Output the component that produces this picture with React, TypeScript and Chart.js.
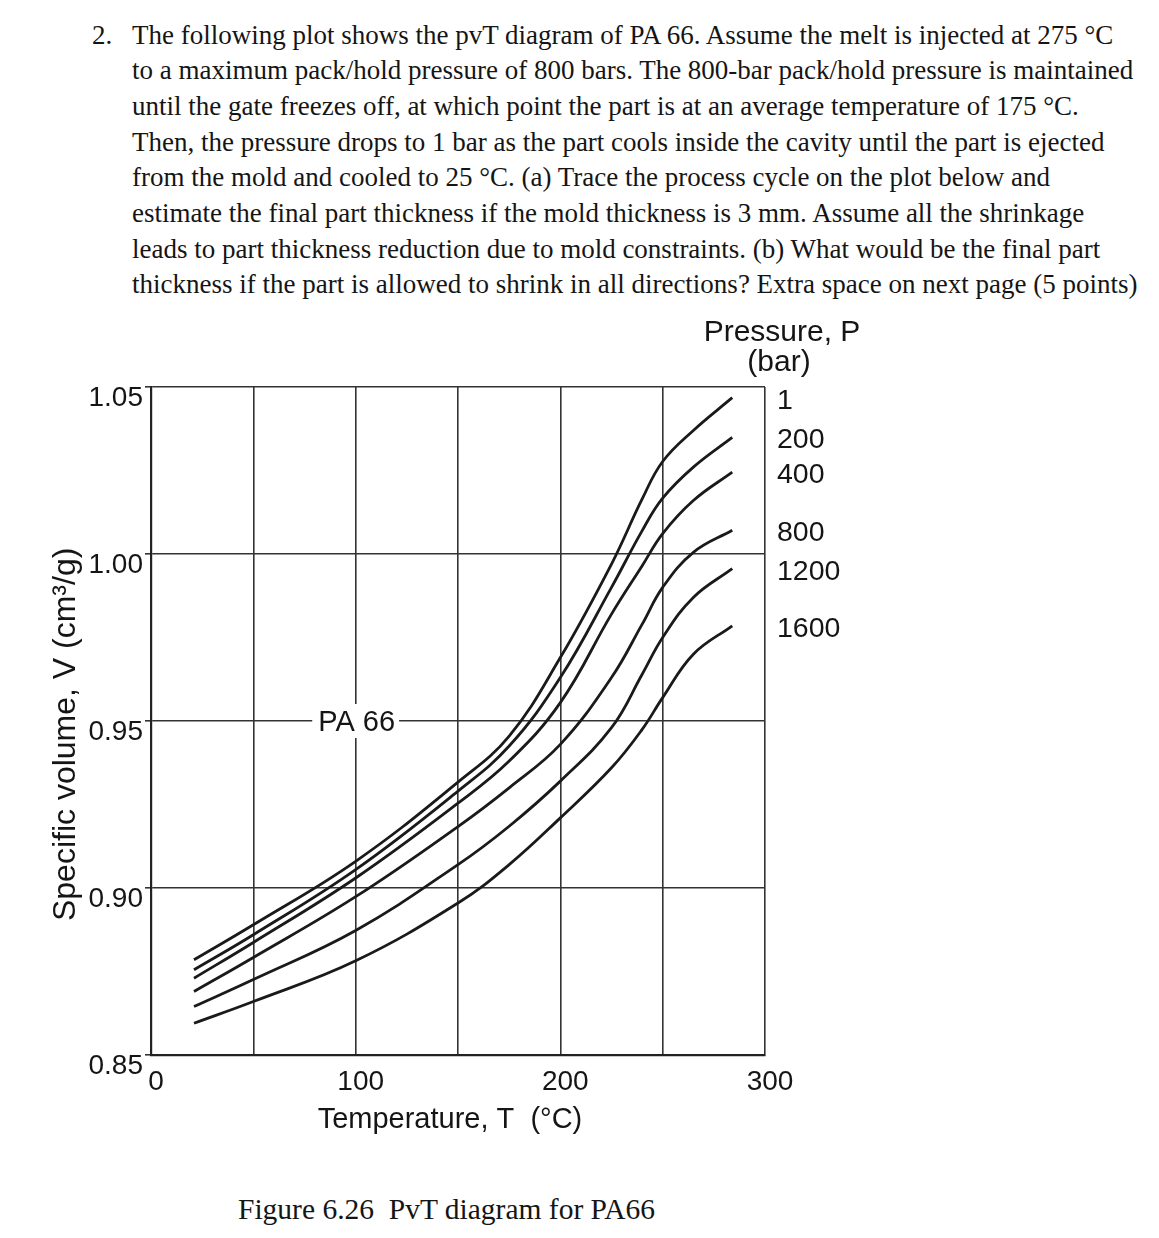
import React, { useEffect, useRef } from 'react';
import { Chart, registerables } from 'chart.js';

Chart.register(...registerables);

// ---- data ----
const temperatures = [21, 50, 100, 150, 175, 200, 225, 240, 250, 265, 284];
const pressureLabels = ['1', '200', '400', '800', '1200', '1600'];
const v1bar = [0.8785, 0.889, 0.908, 0.9317, 0.9455, 0.969, 0.997, 1.0165, 1.0277, 1.037, 1.0468];
const v200bar = [0.8755, 0.886, 0.9055, 0.929, 0.9425, 0.963, 0.99, 1.007, 1.0167, 1.026, 1.0349];
const v400bar = [0.873, 0.8837, 0.903, 0.9254, 0.938, 0.9555, 0.982, 0.9965, 1.0061, 1.016, 1.0245];
const v800bar = [0.869, 0.8792, 0.8974, 0.9184, 0.93, 0.943, 0.963, 0.979, 0.99, 1.0005, 1.0071];
const v1200bar = [0.8645, 0.8726, 0.8873, 0.907, 0.9185, 0.932, 0.948, 0.964, 0.975, 0.987, 0.9956];
const v1600bar = [0.8595, 0.866, 0.8782, 0.8955, 0.907, 0.921, 0.936, 0.9475, 0.957, 0.97, 0.9785];
const seriesValues = [v1bar, v200bar, v400bar, v800bar, v1200bar, v1600bar];

const xGridValues = [0, 50, 100, 150, 200, 250, 300];
const xTickLabels = [0, 100, 200, 300];
const yTickValues = [0.85, 0.9, 0.95, 1.0, 1.05];
const materialLabel = 'PA 66';
const materialLabelAt = { T: 100, V: 0.95 };

const questionLines = [
  'The following plot shows the pvT diagram of PA 66. Assume the melt is injected at 275 °C',
  'to a maximum pack/hold pressure of 800 bars. The 800-bar pack/hold pressure is maintained',
  'until the gate freezes off, at which point the part is at an average temperature of 175 °C.',
  'Then, the pressure drops to 1 bar as the part cools inside the cavity until the part is ejected',
  'from the mold and cooled to 25 °C. (a) Trace the process cycle on the plot below and',
  'estimate the final part thickness if the mold thickness is 3 mm. Assume all the shrinkage',
  'leads to part thickness reduction due to mold constraints. (b) What would be the final part',
  'thickness if the part is allowed to shrink in all directions? Extra space on next page (5 points)',
];

const SANS = '"Liberation Sans", Arial, Helvetica, sans-serif';
const SERIF = '"Liberation Serif", "Times New Roman", serif';
const INK = '#151515';

const annotations = {
  id: 'annotations',
  afterDatasetsDraw(chart: any) {
    const { ctx, chartArea, scales } = chart;
    const x = scales.x;
    const y = scales.y;
    ctx.save();
    ctx.textBaseline = 'middle';
    ctx.fillStyle = INK;
    ctx.textAlign = 'left';
    ctx.font = `28.5px ${SANS}`;
    chart.data.datasets.forEach((ds: any, i: number) => {
      const last = ds.data[ds.data.length - 1];
      ctx.fillText(pressureLabels[i], chartArea.right + 12, y.getPixelForValue(last.y) + 3);
    });
    ctx.textAlign = 'center';
    ctx.font = `30px ${SANS}`;
    ctx.fillText('Pressure, P', chartArea.right + 17, chartArea.top - 54);
    ctx.fillText('(bar)', chartArea.right + 14, chartArea.top - 24);

    ctx.font = `29px ${SANS}`;
    const px = x.getPixelForValue(materialLabelAt.T);
    const py = y.getPixelForValue(materialLabelAt.V);
    const w = ctx.measureText(materialLabel).width;
    ctx.fillStyle = '#fff';
    ctx.fillRect(px - w / 2 - 5, py - 17, w + 10, 34);
    ctx.fillStyle = INK;
    ctx.fillText(materialLabel, px + 1, py + 2);
    ctx.restore();
  },
};

export default function App() {
  const ref = useRef<HTMLCanvasElement>(null);

  useEffect(() => {
    if (!ref.current) return;
    const chart = new Chart(ref.current, {
      type: 'line',
      data: {
        datasets: seriesValues.map((vals, i) => ({
          label: pressureLabels[i] + ' bar',
          data: temperatures.map((t, j) => ({ x: t, y: vals[j] })),
          borderColor: '#1a1a1a',
          borderWidth: 2.8,
          pointRadius: 0,
          fill: false,
          tension: 0.4,
        })),
      },
      options: {
        animation: false,
        responsive: false,
        devicePixelRatio: 1,
        layout: { padding: { top: 87, right: 394, left: 0, bottom: 0 } },
        plugins: { legend: { display: false }, tooltip: { enabled: false } },
        scales: {
          x: {
            type: 'linear',
            min: 0,
            max: 300,
            afterBuildTicks: (scale: any) => {
              scale.ticks = xGridValues.map((v) => ({ value: v }));
            },
            afterFit: (scale: any) => {
              scale.height = 85;
            },
            ticks: {
              autoSkip: false,
              maxRotation: 0,
              padding: 10,
              labelOffset: 5,
              color: INK,
              font: { family: SANS, size: 28 },
              callback: (v: any) => (xTickLabels.includes(Number(v)) ? String(v) : ''),
            },
            grid: { color: '#333', lineWidth: 1.6, drawTicks: false },
            border: { display: true, color: '#222', width: 2.2 },
            title: {
              display: true,
              text: 'Temperature, T  (°C)  ',
              color: INK,
              font: { family: SANS, size: 29 },
              padding: { top: 0, bottom: 3 },
            },
          },
          y: {
            type: 'linear',
            min: 0.85,
            max: 1.05,
            afterBuildTicks: (scale: any) => {
              scale.ticks = yTickValues.map((v) => ({ value: v }));
            },
            afterFit: (scale: any) => {
              scale.width = 151;
            },
            ticks: {
              autoSkip: false,
              padding: 2,
              labelOffset: 11,
              color: INK,
              font: { family: SANS, size: 28 },
              callback: (v: any) => Number(v).toFixed(2),
            },
            grid: { color: '#333', lineWidth: 1.6, drawTicks: true, tickLength: 6 },
            border: { display: true, color: '#222', width: 2.2 },
            title: {
              display: true,
              text: 'Specific volume, V (cm³/g)   ',
              color: INK,
              font: { family: SANS, size: 32 },
              padding: { top: 47, bottom: 0 },
            },
          },
        },
      },
      plugins: [annotations],
    });
    return () => chart.destroy();
  }, []);

  return (
    <div style={{ position: 'relative', width: 1159, height: 1238, background: '#fff', overflow: 'hidden' }}>
      <style>{'body{margin:0;background:#fff}'}</style>
      <div
        style={{
          position: 'absolute',
          left: 92,
          top: 17.5,
          font: `27px ${SERIF}`,
          lineHeight: '35.7px',
          color: INK,
        }}
      >
        2.
      </div>
      <div
        style={{
          position: 'absolute',
          left: 132,
          top: 17.5,
          font: `27px ${SERIF}`,
          lineHeight: '35.7px',
          color: INK,
          whiteSpace: 'pre',
        }}
      >
        {questionLines.map((l, i) => (
          <div key={i}>{l}</div>
        ))}
      </div>
      <canvas ref={ref} width={1159} height={840} style={{ position: 'absolute', left: 0, top: 300 }} />
      <div
        style={{
          position: 'absolute',
          left: 238,
          top: 1190,
          font: `29.5px ${SERIF}`,
          lineHeight: '38px',
          color: INK,
          whiteSpace: 'pre',
        }}
      >
        Figure 6.26  PvT diagram for PA66
      </div>
    </div>
  );
}
